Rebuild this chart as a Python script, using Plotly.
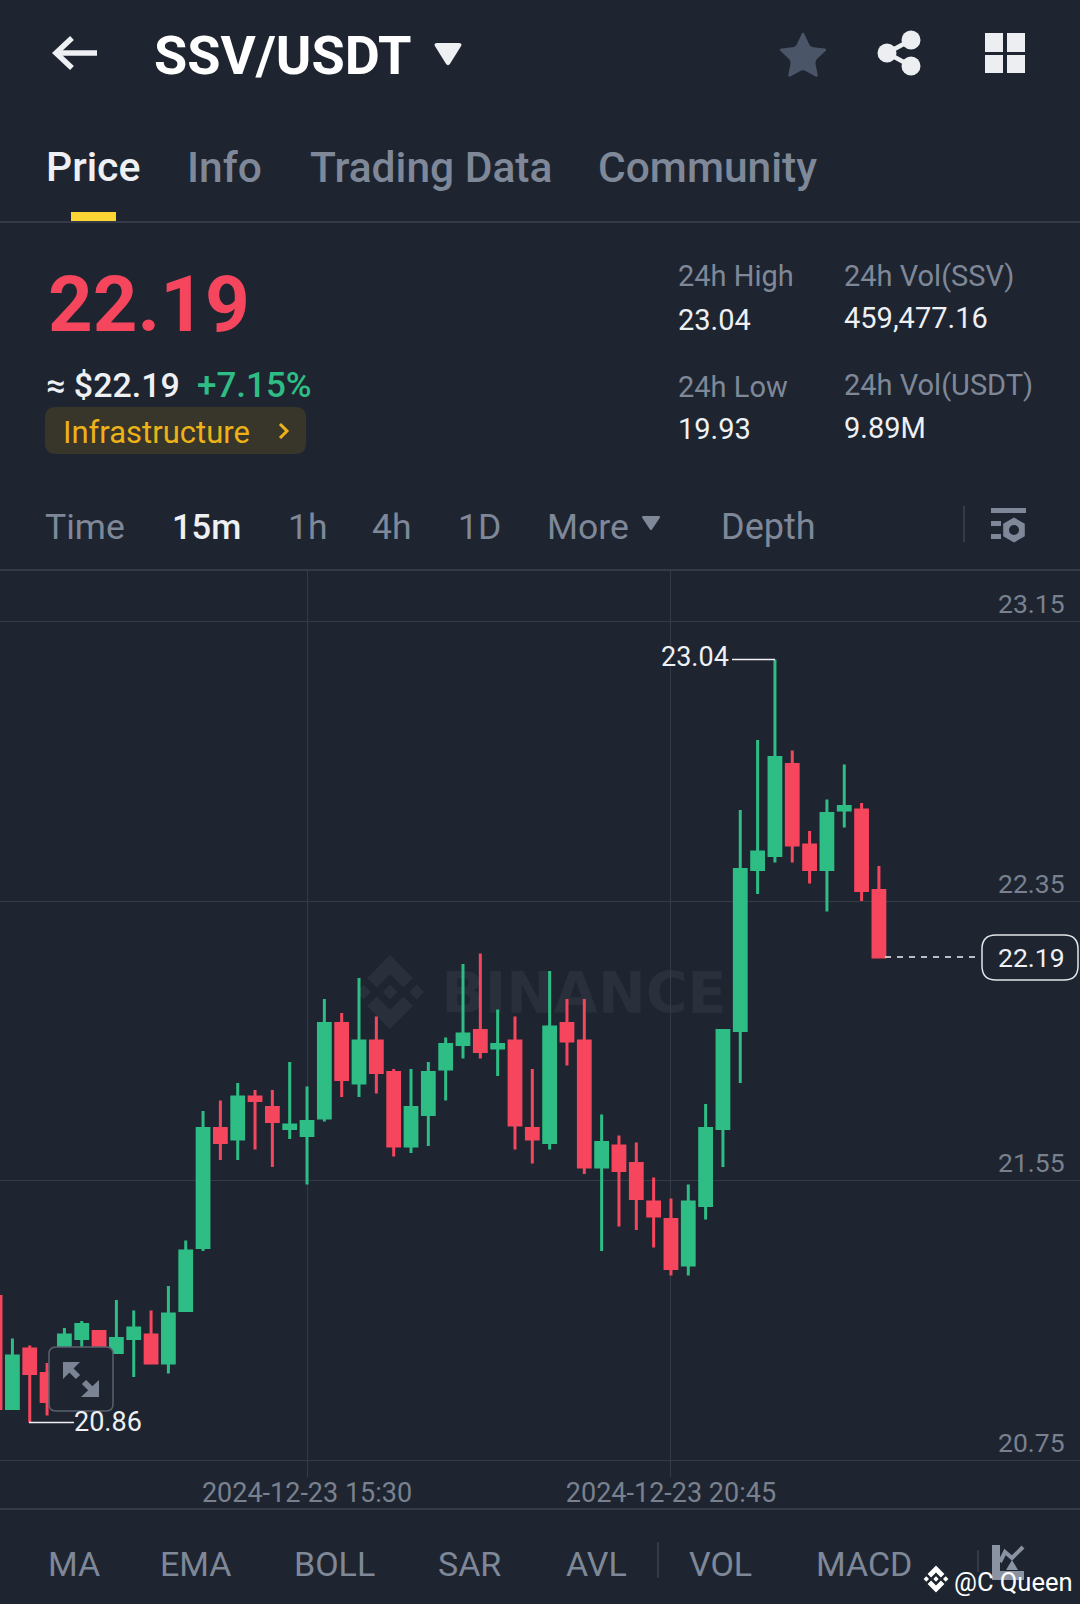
import math
import pandas as pd
import plotly.graph_objects as go

BG = "#1E2530"
GRID = "#343B47"
GREY = "#7F8898"
AXIS_GREY = "#79818F"
WHITE = "#EEF0F3"
GREEN = "#2EBD85"
RED = "#F6465D"
MARK = "#2A303B"
FONT = "Roboto"

# 15m candles
times = pd.date_range("2024-12-23 11:00", periods=52, freq="15min").strftime("%Y-%m-%d %H:%M").tolist()
opens = [21.22, 20.90, 21.07, 21.00, 20.92, 21.10, 21.12, 21.06, 21.10, 21.11, 21.03, 21.18, 21.36,
         21.70, 21.67, 21.79, 21.76, 21.70, 21.68, 21.73, 22.00, 21.83, 21.95, 21.86, 21.65, 21.74,
         21.87, 21.94, 21.98, 21.93, 21.95, 21.70, 21.66, 22.00, 21.95, 21.59, 21.65, 21.60, 21.49,
         21.44, 21.31, 21.48, 21.70, 21.98, 22.44, 22.48, 22.74, 22.51, 22.44, 22.61, 22.61, 22.38]
highs = [21.22, 21.10, 21.08, 21.03, 21.13, 21.15, 21.12, 21.21, 21.18, 21.18, 21.25, 21.38, 21.75,
         21.78, 21.83, 21.81, 21.81, 21.89, 21.82, 22.07, 22.03, 22.13, 22.02, 21.87, 21.87, 21.89,
         21.96, 22.17, 22.20, 22.04, 22.02, 21.87, 22.15, 22.07, 22.07, 21.74, 21.68, 21.66, 21.56,
         21.50, 21.54, 21.77, 21.98, 22.61, 22.81, 23.04, 22.78, 22.55, 22.64, 22.74, 22.63, 22.45]
lows = [20.90, 20.90, 20.86, 20.88, 20.92, 21.06, 21.06, 21.06, 20.99, 21.03, 21.00, 21.18, 21.35,
        21.61, 21.61, 21.64, 21.59, 21.67, 21.54, 21.72, 21.79, 21.79, 21.80, 21.62, 21.63, 21.65,
        21.78, 21.90, 21.90, 21.85, 21.64, 21.60, 21.64, 21.88, 21.57, 21.35, 21.42, 21.41, 21.36,
        21.28, 21.28, 21.44, 21.59, 21.83, 22.37, 22.46, 22.46, 22.40, 22.32, 22.56, 22.35, 22.19]
closes = [20.90, 21.05, 21.00, 20.92, 21.11, 21.14, 21.06, 21.10, 21.13, 21.03, 21.17, 21.35, 21.70,
          21.66, 21.79, 21.78, 21.72, 21.71, 21.72, 22.00, 21.84, 21.95, 21.86, 21.65, 21.76, 21.86,
          21.94, 21.97, 21.92, 21.94, 21.71, 21.67, 21.99, 21.95, 21.59, 21.66, 21.58, 21.50, 21.45,
          21.30, 21.49, 21.70, 21.98, 22.44, 22.49, 22.76, 22.51, 22.44, 22.60, 22.62, 22.38, 22.19]

price_ticks = [23.15, 22.35, 21.55, 20.75]
time_ticks = ["2024-12-23 15:30", "2024-12-23 20:45"]
last_price = 22.19
high_price = 23.04
low_price = 20.86

tabs = [("Price", 45, WHITE, 500, 41), ("Info", 186, GREY, 500, 42.5), ("Trading Data", 309, GREY, 500, 42.5), ("Community", 597, GREY, 500, 42.5)]
intervals = [("Time", 44, GREY, 400, 35.5), ("15m", 171, WHITE, 500, 34.5), ("1h", 287, GREY, 400, 35.5), ("4h", 371, GREY, 400, 35.5),
             ("1D", 457, GREY, 400, 35.5), ("More", 546, GREY, 400, 35.5), ("Depth", 720, GREY, 400, 36)]
indicators = [("MA", 47), ("EMA", 159), ("BOLL", 293), ("SAR", 437), ("AVL", 565), ("VOL", 688), ("MACD", 815)]
stats = [("24h High", 677, 276, GREY), ("23.04", 677, 320, WHITE), ("24h Vol(SSV)", 843, 276, GREY), ("459,477.16", 843, 318, WHITE),
         ("24h Low", 677, 387, GREY), ("19.93", 677, 429, WHITE), ("24h Vol(USDT)", 843, 385, GREY), ("9.89M", 843, 428, WHITE)]

annotations = []
shapes = []


def text(s, x, y, size, color, weight=400, anchor="left", font=FONT):
    annotations.append(dict(text=s, x=x, y=y, xref="x", yref="y", xanchor=anchor, yanchor="middle", showarrow=False,
                            borderpad=0, font=dict(family=font, size=size, color=color, weight=weight)))


def price_text(value, x, anchor, color=WHITE, size=26, yshift=0):
    annotations.append(dict(text=f"{value:.2f}", x=x, y=value, xref="x", yref="y2", xanchor=anchor, yanchor="middle",
                            yshift=yshift, showarrow=False, font=dict(family=FONT, size=size, color=color)))


def poly(pts, color, width=0, close=True, layer="above", fill=True):
    d = "M " + " L ".join(f"{a:.1f},{b:.1f}" for a, b in pts) + (" Z" if close else "")
    shapes.append(dict(type="path", path=d, xref="x", yref="y", layer=layer,
                       fillcolor=color if fill else "rgba(0,0,0,0)",
                       line=dict(color=color, width=width)))


def soft_poly(pts, color, t=0.25):
    # polygon with corners cut by a quadratic, plotly has no round line join
    n = len(pts)
    d = ""
    for i in range(n):
        px, py = pts[i - 1]
        cx, cy = pts[i]
        nx, ny = pts[(i + 1) % n]
        a = (cx + (px - cx) * t, cy + (py - cy) * t)
        b = (cx + (nx - cx) * t, cy + (ny - cy) * t)
        d += ("M" if i == 0 else "L") + f" {a[0]:.1f},{a[1]:.1f} Q {cx:.1f},{cy:.1f} {b[0]:.1f},{b[1]:.1f} "
    shapes.append(dict(type="path", path=d + "Z", xref="x", yref="y", layer="above", fillcolor=color, line=dict(width=0)))


def hline(x0, x1, y, color=GRID, width=2):
    shapes.append(dict(type="line", x0=x0, x1=x1, y0=y, y1=y, xref="x", yref="y", layer="above", line=dict(color=color, width=width)))


def vline(x, y0, y1, color=GRID, width=2):
    shapes.append(dict(type="line", x0=x, x1=x, y0=y0, y1=y1, xref="x", yref="y", layer="above", line=dict(color=color, width=width)))


def round_rect(x0, y0, x1, y1, r, fill, stroke=None, width=0):
    d = (f"M {x0+r},{y0} L {x1-r},{y0} Q {x1},{y0} {x1},{y0+r} L {x1},{y1-r} Q {x1},{y1} {x1-r},{y1} "
         f"L {x0+r},{y1} Q {x0},{y1} {x0},{y1-r} L {x0},{y0+r} Q {x0},{y0} {x0+r},{y0} Z")
    shapes.append(dict(type="path", path=d, xref="x", yref="y", layer="above", fillcolor=fill,
                       line=dict(color=stroke or fill, width=width)))


def dot(cx, cy, r, color):
    shapes.append(dict(type="circle", x0=cx - r, x1=cx + r, y0=cy - r, y1=cy + r, xref="x", yref="y", layer="above",
                       fillcolor=color, line=dict(width=0)))


def logo(cx, cy, r, color, layer="above"):
    for dx in (-0.72, 0, 0.72):
        s = 0.2
        poly([(cx + (dx - s) * r, cy), (cx + dx * r, cy - s * r), (cx + (dx + s) * r, cy), (cx + dx * r, cy + s * r)], color, layer=layer)
    top = [(0, -1), (0.62, -0.38), (0.36, -0.12), (0, -0.48), (-0.36, -0.12), (-0.62, -0.38)]
    for sign in (1, -1):
        poly([(cx + a * r, cy + sign * b * r) for a, b in top], color, layer=layer)


# header
poly([(97, 53), (60, 53)], WHITE, width=5.5, close=False, fill=False)
poly([(72, 38), (56, 53), (72, 68)], WHITE, width=5.5, close=False, fill=False)
text("SSV/USDT", 153, 55, 54, "#FFFFFF", 700)
soft_poly([(433, 43), (463, 43), (448, 67)], WHITE, 0.15)
star = []
for k in range(10):
    rad = 26 if k % 2 == 0 else 12.5
    ang = -math.pi / 2 + k * math.pi / 5
    star.append((803 + rad * math.cos(ang), 57 + rad * math.sin(ang)))
soft_poly(star, "#4A5567", 0.2)
poly([(911, 40), (887, 53), (911, 66)], "#ECEEF1", width=4.5, close=False, fill=False)
dot(911, 40, 9.5, "#ECEEF1")
dot(887, 53, 9.5, "#ECEEF1")
dot(911, 66, 9.5, "#ECEEF1")
for x0, y0, x1, y1 in [(985, 33, 1003, 52), (1007, 33, 1025, 52), (985, 55, 1003, 73), (1007, 55, 1025, 73)]:
    poly([(x0, y0), (x1, y0), (x1, y1), (x0, y1)], "#ECEEF1")

for s, x, c, w, sz in tabs:
    text(s, x, 167, sz, c, w)
poly([(71, 212), (116, 212), (116, 221), (71, 221)], "#FCD535")
hline(0, 1080, 222)

# price block
text("22.19", 47, 304, 78, RED, 700)
text("≈ $22.19", 45, 385, 34, WHITE, 500)
text("+7.15%", 196, 385, 35, GREEN, 500)
round_rect(45, 407, 306, 454, 11, "#38362B")
text("Infrastructure", 62, 432, 31, "#EDB218")
poly([(280, 424), (287, 431), (280, 438)], "#EDB218", width=3, close=False, fill=False)
for s, x, y, c in stats:
    text(s, x, y, 29, c, 400)

# interval row
for s, x, c, w, sz in intervals:
    text(s, x, 527, sz, c, w)
soft_poly([(641, 516), (661, 516), (651, 531)], GREY, 0.12)
vline(964, 506, 542, GRID, 2)
poly([(991, 508), (1026, 508), (1026, 513), (991, 513)], GREY)
poly([(991, 521), (1001, 521), (1001, 526), (991, 526)], GREY)
poly([(991, 534), (1001, 534), (1001, 539), (991, 539)], GREY)
hexagon = [(1014 + 12.5 * math.sin(k * math.pi / 3), 530 - 12.5 * math.cos(k * math.pi / 3)) for k in range(6)]
poly(hexagon, GREY)
dot(1014, 530, 5, BG)
hline(0, 1080, 570)

# chart overlays
logo(390, 992, 37, MARK, layer="below")
for p in price_ticks:
    price_text(p, 1067, "right", AXIS_GREY, 26.5, 18)

shapes.append(dict(type="line", x0=732, x1=775, y0=high_price, y1=high_price, xref="x", yref="y2", layer="above", line=dict(color=WHITE, width=1.5)))
price_text(high_price, 731, "right", size=27, yshift=3)
shapes.append(dict(type="line", x0=29, x1=74, y0=low_price, y1=low_price, xref="x", yref="y2", layer="above", line=dict(color=WHITE, width=1.5)))
shapes.append(dict(type="line", x0=885, x1=976, y0=last_price, y1=last_price, xref="x", yref="y2", layer="above", line=dict(color=WHITE, width=1.5, dash="6px,6px")))

# expand button
round_rect(49, 1347, 113, 1411, 7, BG, "#5A616D", 1.5)
poly([(63, 1362), (80, 1362), (63, 1379)], "#7B8494")
poly([(99, 1397), (81, 1397), (99, 1380)], "#7B8494")
poly([(68, 1367), (78, 1377)], "#7B8494", width=6, close=False, fill=False)
poly([(84, 1382), (94, 1392)], "#7B8494", width=6, close=False, fill=False)
price_text(low_price, 72, "left", size=27)

round_rect(982, 935, 1078, 980, 14, BG, "#E2E5E9", 1.5)
price_text(last_price, 1031, "center", size=26.5)

# bottom row
hline(0, 1080, 1509)
for s, x in indicators:
    text(s, x, 1564, 34, GREY)
vline(658, 1542, 1578, GRID, 2)
vline(978, 1550, 1572, GRID, 2)
poly([(992, 1545), (1000, 1545), (1000, 1571), (1024, 1571), (1024, 1580), (992, 1580)], "#8A93A2")
poly([(1000, 1562), (1005, 1552), (1012, 1558), (1023, 1547)], "#8A93A2", width=4, close=False, fill=False)
poly([(1006, 1570), (1012, 1560), (1018, 1570)], "#8A93A2")
logo(936, 1579, 13.5, "#FFFFFF")
text("@C Queen", 953, 1582, 25.5, "#FFFFFF")

fig = go.Figure()

# watermark goes in the first subplot so the candles sit over it
fig.add_trace(go.Scatter(x=[584], y=[999], mode="text", text=["BINANCE"], hoverinfo="skip", showlegend=False,
                         textfont=dict(family="DejaVu Sans", size=57, color=MARK, weight=700), xaxis="x", yaxis="y"))
fig.add_trace(go.Candlestick(x=times, open=opens, high=highs, low=lows, close=closes, xaxis="x2", yaxis="y2",
                             whiskerwidth=0, showlegend=False, hoverinfo="skip",
                             increasing=dict(line=dict(color=GREEN, width=3), fillcolor=GREEN),
                             decreasing=dict(line=dict(color=RED, width=3), fillcolor=RED)))

fig.update_layout(
    width=1080,
    height=1604,
    margin=dict(l=0, r=0, t=0, b=0),
    paper_bgcolor=BG,
    plot_bgcolor="rgba(0,0,0,0)",
    showlegend=False,
    boxgap=0.32,
    boxgroupgap=0,
    annotations=annotations,
    shapes=shapes,
    xaxis=dict(domain=[0, 1], range=[0, 1080], visible=False, fixedrange=True),
    yaxis=dict(domain=[0, 1], range=[1604, 0], visible=False, fixedrange=True),
    xaxis2=dict(domain=[0, 1], anchor="y2", type="date", range=["2024-12-23 11:04:15", "2024-12-24 02:39:03"],
                tickmode="array", tickvals=time_ticks, ticktext=time_ticks, showgrid=True, gridcolor=GRID, gridwidth=1,
                ticks="", zeroline=False, showline=False, rangeslider=dict(visible=False), fixedrange=True,
                ticklabelstandoff=-3, tickfont=dict(family=FONT, size=27, color=AXIS_GREY)),
    yaxis2=dict(domain=[1 - 1477 / 1604, 1 - 570 / 1604], anchor="x2", range=[20.704, 23.296], tickmode="array",
                tickvals=price_ticks, showticklabels=False, showgrid=True, gridcolor=GRID, gridwidth=1, ticks="",
                zeroline=False, showline=False, fixedrange=True),
)

fig.write_html("out.html", config=dict(displayModeBar=False),
               post_script="document.body.style.margin='0';document.body.style.background='" + BG + "';")
